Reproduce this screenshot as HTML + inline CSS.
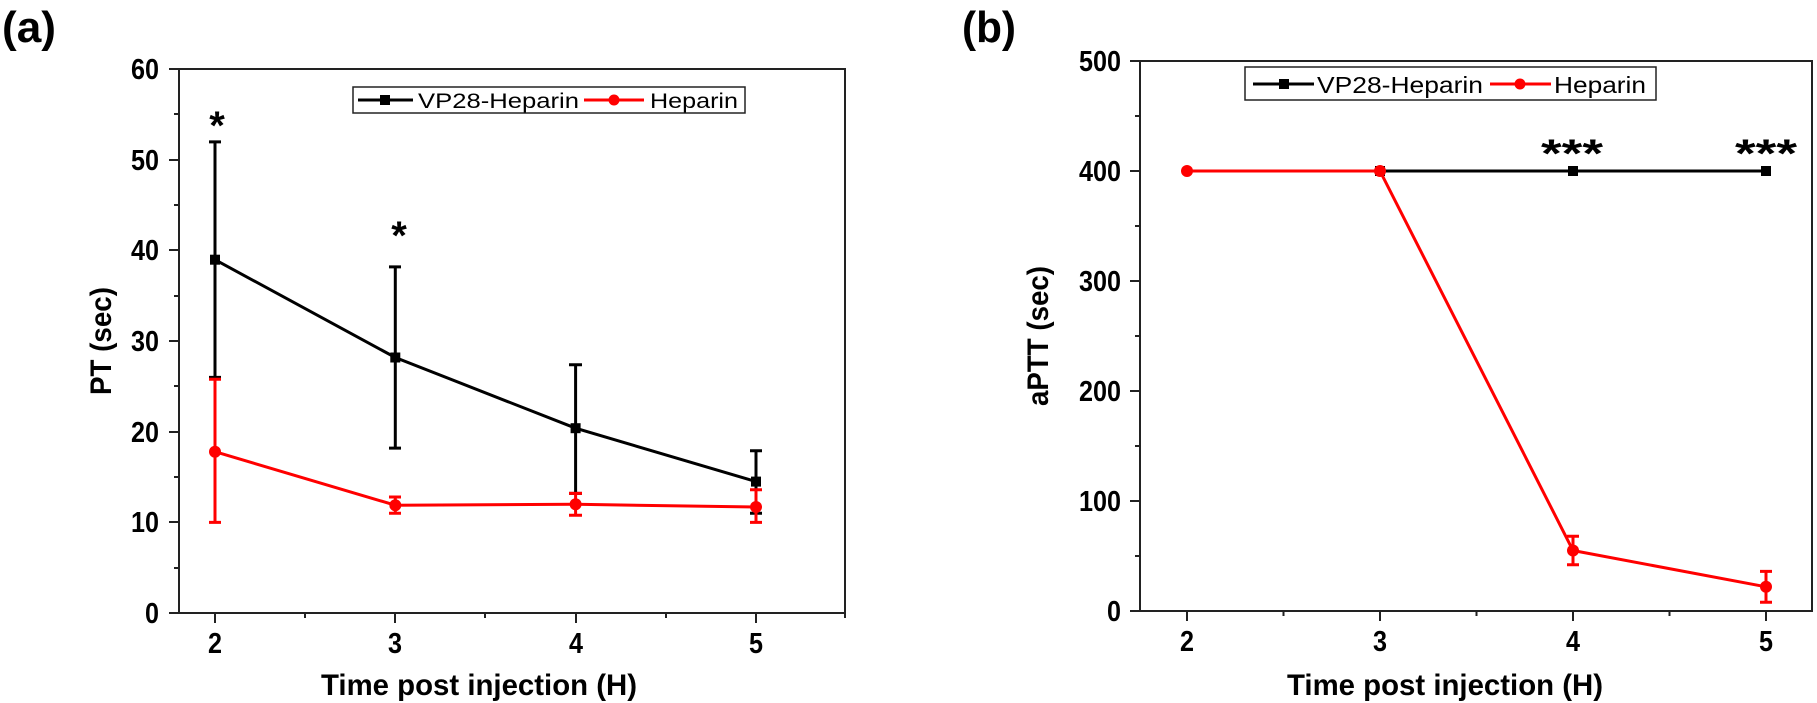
<!DOCTYPE html>
<html><head><meta charset="utf-8"><style>
html,body{margin:0;padding:0;background:#fff}
svg{display:block}
text{font-family:"Liberation Sans",Arial,sans-serif;font-weight:bold;fill:#000}
.t{font-size:29px}
</style></head><body>
<svg width="1817" height="703" viewBox="0 0 1817 703" xmlns="http://www.w3.org/2000/svg">
<!-- Panel a -->
<text x="2" y="42" font-size="44" textLength="54" lengthAdjust="spacingAndGlyphs">(a)</text>
<g stroke="#222" stroke-width="2" fill="none">
<rect x="179" y="69" width="666" height="544"/>
<path d="M169 69H179M169 160H179M169 250H179M169 341H179M169 432H179M169 522H179M169 613H179"/>
<path d="M174 114H179M174 205H179M174 296H179M174 386H179M174 477H179M174 568H179"/>
<path d="M215 613V623M395 613V623M576 613V623M756 613V623"/>
<path d="M305 613V618M485 613V618M666 613V618M845 613V618"/>
</g>
<g class="t" text-anchor="end" lengthAdjust="spacingAndGlyphs">
<text x="159" y="79" textLength="28" lengthAdjust="spacingAndGlyphs">60</text>
<text x="159" y="170" textLength="28" lengthAdjust="spacingAndGlyphs">50</text>
<text x="159" y="260" textLength="28" lengthAdjust="spacingAndGlyphs">40</text>
<text x="159" y="351" textLength="28" lengthAdjust="spacingAndGlyphs">30</text>
<text x="159" y="442" textLength="28" lengthAdjust="spacingAndGlyphs">20</text>
<text x="159" y="532" textLength="28" lengthAdjust="spacingAndGlyphs">10</text>
<text x="159" y="623" textLength="14" lengthAdjust="spacingAndGlyphs">0</text>
</g>
<g class="t" text-anchor="middle">
<text x="215" y="653" textLength="14" lengthAdjust="spacingAndGlyphs">2</text>
<text x="395" y="653" textLength="14" lengthAdjust="spacingAndGlyphs">3</text>
<text x="576" y="653" textLength="14" lengthAdjust="spacingAndGlyphs">4</text>
<text x="756" y="653" textLength="14" lengthAdjust="spacingAndGlyphs">5</text>
</g>
<text x="479" y="695" font-size="30" text-anchor="middle" textLength="316" lengthAdjust="spacingAndGlyphs">Time post injection (H)</text>
<text transform="translate(111,341) rotate(-90)" font-size="30" text-anchor="middle" textLength="108" lengthAdjust="spacingAndGlyphs">PT (sec)</text>
<g stroke="#000" stroke-width="3" fill="none">
<path d="M215 259.7L395.3 357.5L575.6 428.2L756 481.6"/>
<path d="M215 141.9V377.4M209 141.9H221M209 377.4H221"/>
<path d="M395.3 266.9V448.1M389 266.9H401M389 448.1H401"/>
<path d="M575.6 364.8V493.4M569 364.8H582M569 493.4H582"/>
<path d="M756 450.8V513.3M750 450.8H762M750 513.3H762"/>
</g>
<g fill="#000">
<rect x="210" y="254.7" width="10" height="10"/><rect x="390.3" y="352.5" width="10" height="10"/>
<rect x="570.6" y="423.2" width="10" height="10"/><rect x="751" y="476.6" width="10" height="10"/>
</g>
<g stroke="#f00" stroke-width="3" fill="none">
<path d="M215 451.7L395.3 505.2L575.6 504.3L756 507"/>
<path d="M215 379.3V522.4M209 379.3H221M209 522.4H221"/>
<path d="M395.3 497V513.3M389 497H401M389 513.3H401"/>
<path d="M575.6 493.4V515.2M569 493.4H582M569 515.2H582"/>
<path d="M756 489.8V522.4M750 489.8H762M750 522.4H762"/>
</g>
<g fill="#f00">
<circle cx="215" cy="451.7" r="6"/><circle cx="395.3" cy="505.2" r="6"/>
<circle cx="575.6" cy="504.3" r="6"/><circle cx="756" cy="507" r="6"/>
</g>
<g font-size="40" text-anchor="middle">
<text x="217" y="139">*</text><text x="399" y="249">*</text>
</g>
<rect x="353" y="87" width="392" height="26" fill="#fff" stroke="#222" stroke-width="1.5"/>
<path d="M358 100H413" stroke="#000" stroke-width="3"/><rect x="380" y="95" width="10" height="10" fill="#000"/>
<text x="418" y="108" font-size="21" style="font-weight:normal" textLength="161" lengthAdjust="spacingAndGlyphs">VP28-Heparin</text>
<path d="M584 100H644" stroke="#f00" stroke-width="3"/><circle cx="614" cy="100" r="5.5" fill="#f00"/>
<text x="650" y="108" font-size="21" style="font-weight:normal" textLength="88" lengthAdjust="spacingAndGlyphs">Heparin</text>

<!-- Panel b -->
<text x="962" y="42" font-size="44" textLength="54" lengthAdjust="spacingAndGlyphs">(b)</text>
<g stroke="#222" stroke-width="2" fill="none">
<rect x="1140" y="61" width="672" height="550"/>
<path d="M1130 61H1140M1130 171H1140M1130 281H1140M1130 391H1140M1130 501H1140M1130 611H1140"/>
<path d="M1135 116H1140M1135 226H1140M1135 336H1140M1135 446H1140M1135 556H1140"/>
<path d="M1187 611V621M1380 611V621M1573 611V621M1766 611V621"/>
<path d="M1283.5 611V616M1476.5 611V616M1669.5 611V616"/>
</g>
<g class="t" text-anchor="end">
<text x="1121" y="71" textLength="42" lengthAdjust="spacingAndGlyphs">500</text>
<text x="1121" y="181" textLength="42" lengthAdjust="spacingAndGlyphs">400</text>
<text x="1121" y="291" textLength="42" lengthAdjust="spacingAndGlyphs">300</text>
<text x="1121" y="401" textLength="42" lengthAdjust="spacingAndGlyphs">200</text>
<text x="1121" y="511" textLength="42" lengthAdjust="spacingAndGlyphs">100</text>
<text x="1121" y="621" textLength="14" lengthAdjust="spacingAndGlyphs">0</text>
</g>
<g class="t" text-anchor="middle">
<text x="1187" y="651" textLength="14" lengthAdjust="spacingAndGlyphs">2</text>
<text x="1380" y="651" textLength="14" lengthAdjust="spacingAndGlyphs">3</text>
<text x="1573" y="651" textLength="14" lengthAdjust="spacingAndGlyphs">4</text>
<text x="1766" y="651" textLength="14" lengthAdjust="spacingAndGlyphs">5</text>
</g>
<text x="1445" y="695" font-size="30" text-anchor="middle" textLength="316" lengthAdjust="spacingAndGlyphs">Time post injection (H)</text>
<text transform="translate(1048,336) rotate(-90)" font-size="30" text-anchor="middle" textLength="140" lengthAdjust="spacingAndGlyphs">aPTT (sec)</text>
<path d="M1380 171H1766" stroke="#000" stroke-width="3"/>
<g fill="#000">
<rect x="1375" y="166" width="10" height="10"/><rect x="1568" y="166" width="10" height="10"/><rect x="1761" y="166" width="10" height="10"/>
</g>
<g stroke="#f00" stroke-width="3" fill="none">
<path d="M1187 171L1380 171L1573 550.5L1766 586.8"/>
<path d="M1573 536.2V564.8M1567 536.2H1579M1567 564.8H1579"/>
<path d="M1766 571.4V602.2M1760 571.4H1772M1760 602.2H1772"/>
</g>
<g fill="#f00">
<circle cx="1187" cy="171" r="6"/><circle cx="1380" cy="171" r="6"/>
<circle cx="1573" cy="550.5" r="6"/><circle cx="1766" cy="586.8" r="6"/>
</g>
<g font-size="40" text-anchor="middle">
<text x="1572" y="167" textLength="62" lengthAdjust="spacingAndGlyphs">***</text>
<text x="1766" y="167" textLength="62" lengthAdjust="spacingAndGlyphs">***</text>
</g>
<rect x="1245" y="67" width="411" height="33" fill="#fff" stroke="#222" stroke-width="1.5"/>
<path d="M1253 84H1314" stroke="#000" stroke-width="3"/><rect x="1279" y="79" width="10" height="10" fill="#000"/>
<text x="1317" y="93" font-size="23" style="font-weight:normal" textLength="166" lengthAdjust="spacingAndGlyphs">VP28-Heparin</text>
<path d="M1490 84H1551" stroke="#f00" stroke-width="3"/><circle cx="1520" cy="84" r="5.5" fill="#f00"/>
<text x="1554" y="93" font-size="23" style="font-weight:normal" textLength="92" lengthAdjust="spacingAndGlyphs">Heparin</text>
</svg>
</body></html>
